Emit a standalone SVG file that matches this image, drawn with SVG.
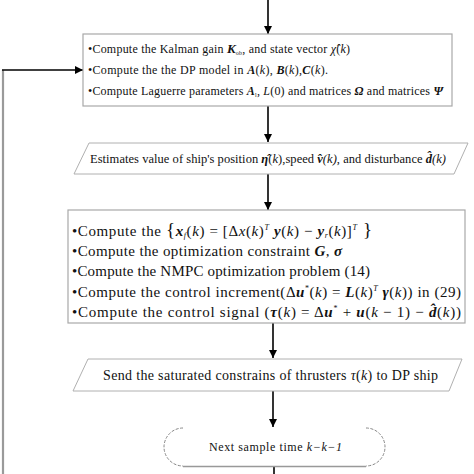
<svg xmlns="http://www.w3.org/2000/svg" width="474" height="474" viewBox="0 0 474 474">
<defs>
<marker id="ah" viewBox="0 0 10 10" refX="10" refY="5" markerWidth="5" markerHeight="5" orient="auto" markerUnits="strokeWidth">
<path d="M0,0 L10,5 L0,10 z" fill="#000"/>
</marker>
<style>
.t{font-family:"Liberation Serif","Times New Roman",serif;fill:#111;}
.bi{font-weight:bold;font-style:italic;}
.i{font-style:italic;}
.box{fill:#fff;stroke:#a8a8a8;stroke-width:1.2;}
.para{fill:#fff;stroke:#b0b0b0;stroke-width:1;}
.conn{stroke:#000;stroke-width:1.6;fill:none;}
</style>
</defs>
<rect width="474" height="474" fill="#fff"/>
<g id="connectors">
<line class="conn" x1="268" y1="0" x2="268" y2="34" marker-end="url(#ah)"/>
<line class="conn" x1="268" y1="106" x2="268" y2="142" marker-end="url(#ah)"/>
<line class="conn" x1="268" y1="174" x2="268" y2="210" marker-end="url(#ah)"/>
<line class="conn" x1="273" y1="323" x2="273" y2="358" marker-end="url(#ah)"/>
<line class="conn" x1="273" y1="391" x2="273" y2="427" marker-end="url(#ah)"/>
<line class="conn" x1="274" y1="467" x2="274" y2="474"/>
<line x1="3" y1="70" x2="3" y2="474" stroke="#9a9a9a" stroke-width="2.2"/>
<line class="conn" x1="2" y1="70" x2="83" y2="70" marker-end="url(#ah)"/>
</g>
<g id="node1">
<rect class="box" x="83" y="34" width="369" height="72"/>
<text class="t" font-size="12" x="88" y="53" textLength="262">•Compute the Kalman gain <tspan class="bi" font-size="13">K</tspan><tspan font-size="6" dy="2">ob</tspan><tspan dy="-2">, and state vector </tspan><tspan class="i">χ̂</tspan>(<tspan class="i">k</tspan>)</text>
<text class="t" font-size="12" x="88" y="74" textLength="240">•Compute the the DP model in <tspan class="bi">A</tspan>(<tspan class="i">k</tspan>), <tspan class="bi">B</tspan>(<tspan class="i">k</tspan>),<tspan class="bi">C</tspan>(<tspan class="i">k</tspan>).</text>
<text class="t" font-size="12" x="88" y="95" textLength="355">•Compute Laguerre parameters <tspan class="bi">A</tspan><tspan font-size="6" dy="2">l</tspan><tspan dy="-2">, </tspan><tspan class="i">L</tspan>(0) and matrices <tspan class="bi">Ω</tspan> and matrices <tspan class="bi">Ψ</tspan></text>
</g>
<g id="node2">
<polygon class="para" points="89,143 468,143 454,174 74,174"/>
<text class="t" font-size="12.5" x="90" y="163" textLength="356">Estimates value of ship's position <tspan class="bi">η̂</tspan>(<tspan class="i">k</tspan>),speed <tspan class="bi">v̂</tspan><tspan class="i">(k)</tspan>, and disturbance <tspan class="bi">d̂</tspan><tspan class="i">(k)</tspan></text>
</g>
<g id="node3">
<rect class="box" x="68" y="210" width="397" height="113" stroke="#999"/>
<text class="t" font-size="15" x="72" y="236" textLength="300">•Compute the <tspan font-size="19">{</tspan><tspan class="bi">x</tspan><tspan class="i" font-size="8" dy="2">f</tspan><tspan dy="-2">(</tspan><tspan class="i">k</tspan>) = [Δ<tspan class="i">x</tspan>(<tspan class="i">k</tspan>)<tspan font-size="8" dy="-6" class="i">T</tspan><tspan dy="6"> </tspan><tspan class="bi">y</tspan>(<tspan class="i">k</tspan>) − <tspan class="bi">y</tspan><tspan class="i" font-size="8" dy="2">r</tspan><tspan dy="-2">(</tspan><tspan class="i">k</tspan>)]<tspan font-size="8" dy="-6" class="i">T</tspan><tspan dy="6" font-size="19"> }</tspan></text>
<text class="t" font-size="15" x="72" y="256" textLength="270">•Compute the optimization constraint <tspan class="bi">G</tspan>, <tspan class="bi">σ</tspan></text>
<text class="t" font-size="15" x="72" y="276" textLength="298">•Compute the NMPC optimization problem (14)</text>
<text class="t" font-size="15" x="72" y="297" textLength="389">•Compute the control increment(Δ<tspan class="bi">u</tspan><tspan font-size="8" dy="-6">*</tspan><tspan dy="6">(</tspan><tspan class="i">k</tspan>) = <tspan class="bi">L</tspan>(<tspan class="i">k</tspan>)<tspan font-size="8" dy="-6" class="i">T</tspan><tspan dy="6"> </tspan><tspan class="bi">γ</tspan>(<tspan class="i">k</tspan>)) in (29)</text>
<text class="t" font-size="15" x="72" y="317" textLength="389">•Compute the control signal (<tspan class="bi">τ</tspan>(<tspan class="i">k</tspan>) = Δ<tspan class="bi">u</tspan><tspan font-size="8" dy="-6">*</tspan><tspan dy="6"> + </tspan><tspan class="bi">u</tspan>(<tspan class="i">k</tspan> − 1) − <tspan class="bi">d̂</tspan>(<tspan class="i">k</tspan>))</text>
</g>
<g id="node4">
<polygon class="para" points="88,359 462,359 449,391 73,391"/>
<text class="t" font-size="14" x="103" y="380" textLength="335">Send the saturated constrains of  thrusters <tspan class="i">τ</tspan>(<tspan class="i">k</tspan>) to DP ship</text>
</g>
<g id="node5">
<path d="M183,428 A19,19 0 0 0 183,466" fill="none" stroke="#888" stroke-width="1" stroke-dasharray="3,1.5"/>
<path d="M366,428 A19,19 0 0 1 366,466" fill="none" stroke="#888" stroke-width="1" stroke-dasharray="3,1.5"/>
<line x1="183" y1="466.5" x2="366" y2="466.5" stroke="#999" stroke-width="1.5"/>
<text class="t" font-size="12" x="209" y="451" textLength="133">Next sample time <tspan class="i">k−k−1</tspan></text>
</g>
</svg>
